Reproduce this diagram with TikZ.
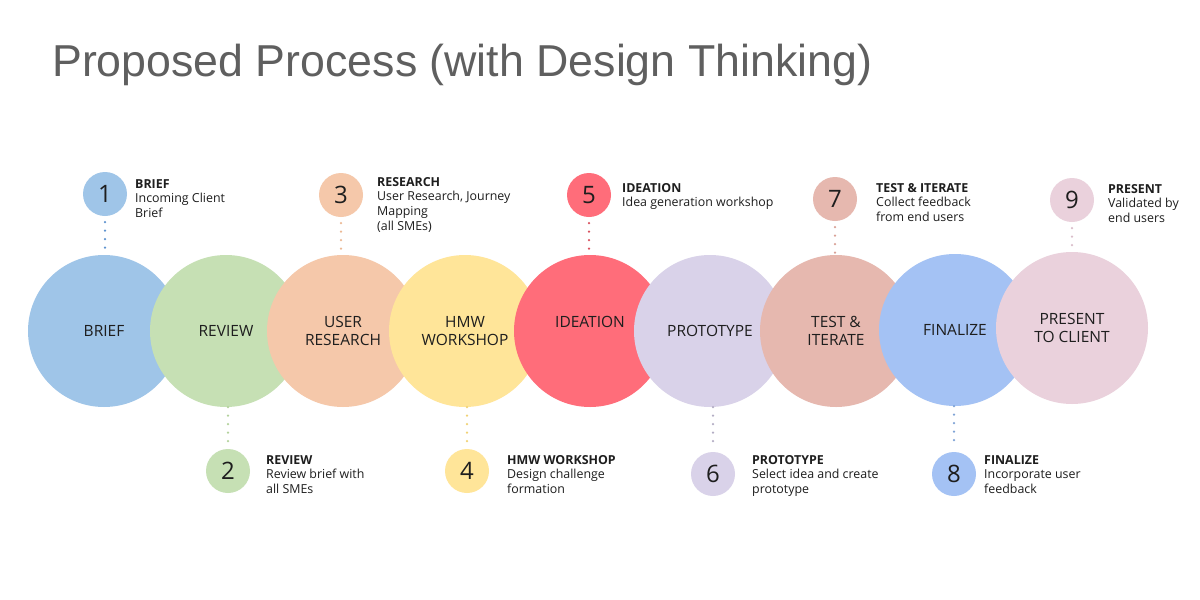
\documentclass[tikz,border=0pt]{standalone}
\usepackage{fontspec}
\setmainfont{Open Sans}
\newfontfamily\titlefont{Liberation Sans}
\definecolor{txt}{HTML}{1E1E1E}
\definecolor{ttl}{HTML}{5F5F5F}
\definecolor{c1}{HTML}{9FC5E8}
\definecolor{c2}{HTML}{C6E0B4}
\definecolor{c3}{HTML}{F5C8AA}
\definecolor{c4}{HTML}{FFE599}
\definecolor{c5}{HTML}{FF6D7A}
\definecolor{c6}{HTML}{D9D2E9}
\definecolor{c7}{HTML}{E6B8AF}
\definecolor{c8}{HTML}{A4C2F4}
\definecolor{c9}{HTML}{EAD1DC}
\definecolor{d1}{HTML}{5F93CF}
\definecolor{d2}{HTML}{B3D29C}
\definecolor{d3}{HTML}{ECB994}
\definecolor{d4}{HTML}{F1D274}
\definecolor{d5}{HTML}{D9525F}
\definecolor{d6}{HTML}{B3ADC4}
\definecolor{d7}{HTML}{D9A196}
\definecolor{d8}{HTML}{7FA3D6}
\definecolor{d9}{HTML}{DABDCA}
\begin{document}
\begin{tikzpicture}[x=1pt,y=-1pt,
  big/.style={circle, minimum size=152pt, inner sep=0pt, align=center, text=txt,
    font=\fontsize{15.5}{18}\selectfont},
  small/.style={circle, minimum size=44pt, inner sep=0pt, text=txt,
    font=\fontsize{24}{24}\selectfont},
  lbl/.style={anchor=north west, inner sep=0pt, align=left, text=txt,
    font=\fontsize{12.4}{14.8}\selectfont},
  dots/.style={line width=2.5pt, line cap=round, dash pattern=on 0pt off 8.5pt},
  ttlstyle/.style={anchor=base west, inner sep=0pt, text=ttl,
    font=\titlefont\fontsize{44.7}{50}\selectfont}]
\fill[white] (0,0) rectangle (1200,600);
\useasboundingbox (0,0) rectangle (1200,600);

\node[ttlstyle] (title) at (52,76) {Proposed Process (with Design Thinking)};

% big circles
\node[big, fill=c1] (b1) at (104,331) {BRIEF};
\node[big, fill=c2] (b2) at (226,331) {REVIEW};
\node[big, fill=c3] (b3) at (343,331) {USER\\RESEARCH};
\node[big, fill=c4] (b4) at (465,331) {HMW\\WORKSHOP};
\node[big, fill=c5] (b5) at (590,331) {IDEATION\\\mbox{}};
\node[big, fill=c6] (b6) at (710,331) {PROTOTYPE};
\node[big, fill=c7] (b7) at (836,331) {TEST \&\\ITERATE};
\node[big, fill=c8] (b8) at (955,330) {FINALIZE};
\node[big, fill=c9] (b9) at (1072,328) {PRESENT\\TO CLIENT};

% small circles
\node[small, fill=c1] (s1) at (105,194) {1};
\node[small, fill=c3] (s3) at (341,195) {3};
\node[small, fill=c5] (s5) at (589,195) {5};
\node[small, fill=c7] (s7) at (835,199) {7};
\node[small, fill=c9] (s9) at (1072,200) {9};
\node[small, fill=c2] (s2) at (228,471) {2};
\node[small, fill=c4] (s4) at (467,471) {4};
\node[small, fill=c6] (s6) at (713,474) {6};
\node[small, fill=c8] (s8) at (954,474) {8};

% labels
\node[lbl] (t1) at (135,179) {\textbf{BRIEF}\\Incoming Client\\Brief};
\node[lbl] (t3) at (377,177) {\textbf{RESEARCH}\\User Research, Journey\\Mapping\\(all SMEs)};
\node[lbl] (t5) at (622,183) {\textbf{IDEATION}\\Idea generation workshop};
\node[lbl] (t7) at (876,183) {\textbf{TEST \& ITERATE}\\Collect feedback\\from end users};
\node[lbl] (t9) at (1108,184) {\textbf{PRESENT}\\Validated by\\end users};
\node[lbl] (t2) at (266,455) {\textbf{REVIEW}\\Review brief with\\all SMEs};
\node[lbl] (t4) at (507,455) {\textbf{HMW WORKSHOP}\\Design challenge\\formation};
\node[lbl] (t6) at (752,455) {\textbf{PROTOTYPE}\\Select idea and create\\prototype};
\node[lbl] (t8) at (984,455) {\textbf{FINALIZE}\\Incorporate user\\feedback};

% dotted connectors
\draw[dots, d1, shorten <=6pt] (s1.south) -- (s1.south |- b1.north);
\draw[dots, d3, shorten <=6pt] (s3.south) -- (s3.south |- b3.north);
\draw[dots, d5, shorten <=6pt] (s5.south) -- (s5.south |- b5.north);
\draw[dots, d7, shorten <=6pt] (s7.south) -- (s7.south |- b7.north);
\draw[dots, d9, shorten <=6pt] (s9.south) -- (s9.south |- b9.north);
\draw[dots, d2, shorten >=6pt] (s2.north |- b2.south) -- (s2.north);
\draw[dots, d4, shorten >=6pt] (s4.north |- b4.south) -- (s4.north);
\draw[dots, d6, shorten >=6pt] (s6.north |- b6.south) -- (s6.north);
\draw[dots, d8, shorten >=6pt] (s8.north |- b8.south) -- (s8.north);
\end{tikzpicture}
\end{document}
